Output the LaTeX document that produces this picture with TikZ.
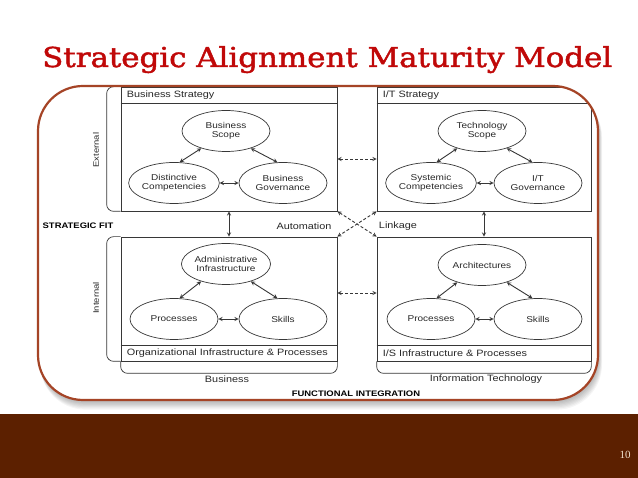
\documentclass[tikz,border=0pt]{standalone}
\usepackage{fontspec}
\setmainfont{Liberation Serif}
\newfontfamily\titlefont[FakeBold=1.6]{DejaVu Serif}
\newfontfamily\diagfont[FakeStretch=1.18]{Liberation Sans}
\usepackage{graphicx}
\usetikzlibrary{shapes.geometric, arrows, positioning}
\definecolor{titlered}{RGB}{192,8,8}
\definecolor{bandbrown}{RGB}{92,32,0}
\definecolor{framebrown}{RGB}{165,68,38}
\definecolor{linegray}{RGB}{55,55,55}
\definecolor{textgray}{RGB}{40,40,40}
\tikzstyle{panel} = [rectangle, draw=linegray, line width=0.7pt,
    minimum height=124pt, inner sep=0pt]
\tikzstyle{strip} = [minimum height=16pt, inner xsep=6pt, inner ysep=0pt,
    font=\diagfont\fontsize{9.2}{10}\selectfont, text=textgray]
\tikzstyle{capability} = [ellipse, draw=linegray, line width=0.7pt,
    minimum width=88pt, minimum height=41pt, inner sep=0pt, align=center,
    font=\diagfont\fontsize{8.5}{9.5}\selectfont, text=textgray]
\tikzstyle{caption} = [font=\diagfont\fontsize{9.2}{10}\selectfont, text=textgray]
\tikzstyle{boldcaption} = [font=\diagfont\bfseries\fontsize{8}{9}\selectfont, text=black]
\tikzstyle{link} = [draw=linegray, line width=0.9pt, <->, >=stealth]
\tikzstyle{dashlink} = [link, dash pattern=on 3pt off 2pt]
\tikzstyle{bracket} = [draw=linegray, line width=0.7pt, rounded corners=7pt]

\begin{document}
\begin{tikzpicture}[x=1pt, y=-1pt]
    \useasboundingbox (0,0) rectangle (638,478);
    \fill[white] (0,0) rectangle (638,478);
    \fill[bandbrown] (0,414) rectangle (638,478);

    \node[anchor=base west, inner sep=0pt, text=titlered] (title) at (42,67)
        {\resizebox{570pt}{\height}{\titlefont\fontsize{27.4}{30}\selectfont Strategic Alignment Maturity Model}};
    \node[text={rgb,255:red,240;green,226;blue,205}, font=\fontsize{11}{12}\selectfont] (pagenum) at (625,455) {10};

    % frame with soft shadow
    \foreach \d in {1,...,8}
        \fill[black, opacity=0.04, rounded corners=45pt] (38+\d*0.3,86+\d*0.8) rectangle (598+\d*0.5,400+\d*1.2);
    \fill[white, rounded corners=45pt] (38,86) rectangle (598,400);

    \begin{scope}
        \clip[rounded corners=45pt] (38,86) rectangle (598,400);

        \node (bs) [panel, minimum width=216pt] at (229,149) {};
        \node (its) [panel, minimum width=214pt] at (484,149) {};
        \node (oip) [panel, minimum width=216pt] at (229,299) {};
        \node (isp) [panel, minimum width=214pt] at (484,299) {};

        \node (bshead) [strip, anchor=north west] at (bs.north west) {Business Strategy};
        \node (itshead) [strip, anchor=north west] at (its.north west) {I/T Strategy};
        \node (oipfoot) [strip, anchor=south west] at (oip.south west) {Organizational Infrastructure \& Processes};
        \node (ispfoot) [strip, anchor=south west] at (isp.south west) {I/S Infrastructure \& Processes};
        \draw [linegray, line width=0.7pt] (bshead.south -| bs.west) -- (bshead.south -| bs.east);
        \draw [linegray, line width=0.7pt] (itshead.south -| its.west) -- (itshead.south -| its.east);
        \draw [linegray, line width=0.7pt] (oipfoot.north -| oip.west) -- (oipfoot.north -| oip.east);
        \draw [linegray, line width=0.7pt] (ispfoot.north -| isp.west) -- (ispfoot.north -| isp.east);

        % business strategy
        \node (bscope) [capability] at (226,131) {Business\\Scope};
        \node (dcomp) [capability] at (174,183) {Distinctive\\Competencies};
        \node (bgov) [capability] at (283,183) {Business\\Governance};
        % I/T strategy
        \node (tscope) [capability] at (482,131) {Technology\\Scope};
        \node (scomp) [capability] at (431,183) {Systemic\\Competencies};
        \node (itgov) [capability] at (538,183) {I/T\\Governance};
        % organizational infrastructure
        \node (admin) [capability] at (226,264) {Administrative\\Infrastructure};
        \node (bproc) [capability] at (174,319) {Processes};
        \node (bskills) [capability] at (283,319) {Skills};
        % I/S infrastructure
        \node (arch) [capability] at (482,265) {Architectures};
        \node (iproc) [capability] at (431,319) {Processes};
        \node (iskills) [capability] at (538,319) {Skills};

        \draw [link] (bscope.215) -- (dcomp.75);
        \draw [link] (bscope.325) -- (bgov.105);
        \draw [link] (dcomp.east) -- (bgov.west);
        \draw [link] (tscope.215) -- (scomp.75);
        \draw [link] (tscope.325) -- (itgov.105);
        \draw [link] (scomp.east) -- (itgov.west);
        \draw [link] (admin.215) -- (bproc.75);
        \draw [link] (admin.325) -- (bskills.105);
        \draw [link] (bproc.east) -- (bskills.west);
        \draw [link] (arch.215) -- (iproc.75);
        \draw [link] (arch.325) -- (iskills.105);
        \draw [link] (iproc.east) -- (iskills.west);

        % strategic fit and functional integration
        \draw [link] (bs.south) -- (oip.north);
        \draw [link] (its.south) -- (isp.north);
        \draw [dashlink] ([yshift=-10pt]bs.east) -- ([yshift=-10pt]its.west);
        \draw [dashlink] ([yshift=6pt]oip.east) -- ([yshift=6pt]isp.west);
        \draw [dashlink] (bs.south east) -- (isp.north west);
        \draw [dashlink] (its.south west) -- (oip.north east);

        \node (automation) [caption] at (304,226) {Automation};
        \node (linkage) [caption] at (398,226) {Linkage};
        \node (fit) [boldcaption] at (78,226) {STRATEGIC FIT};

        \draw [bracket] (bs.north west) -| ([xshift=-14pt]bs.west) |- (bs.south west);
        \draw [bracket] (oip.north west) -| ([xshift=-14pt]oip.west) |- (oip.south west);
        \draw [bracket] (oip.south west) |- ([yshift=-12pt]oip.south) -| (oip.south east);
        \draw [bracket] (isp.south west) |- ([yshift=-12pt]isp.south) -| (isp.south east);
        \node (external) [caption, rotate=90, font=\diagfont\fontsize{8}{9}\selectfont] at (96,150) {External};
        \node (internal) [caption, rotate=90, font=\diagfont\fontsize{8}{9}\selectfont] at (96,298) {Internal};
        \node (business) [caption] at (227,379) {Business};
        \node (infotech) [caption] at (486,379) {Information Technology};
        \node (funcint) [boldcaption] at (356,394) {FUNCTIONAL INTEGRATION};
    \end{scope}

    \draw [framebrown, line width=2.2pt, rounded corners=45pt] (38,86) rectangle (598,400);
\end{tikzpicture}
\end{document}
